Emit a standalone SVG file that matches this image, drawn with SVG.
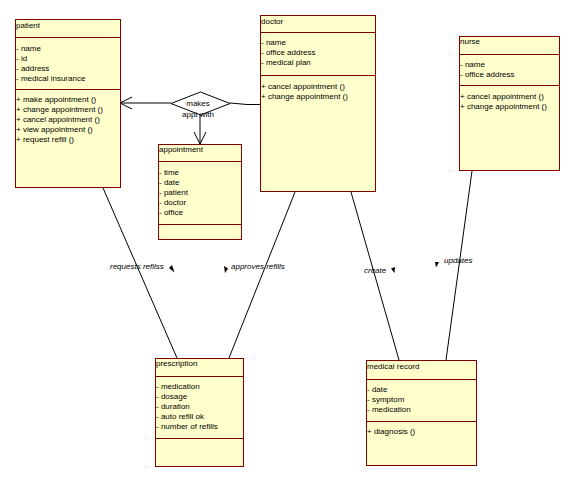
<svg xmlns="http://www.w3.org/2000/svg" width="576" height="483" viewBox="0 0 576 483">
<style>
.box{fill:#FFFFCC;stroke:#800000;stroke-width:1}
.sep{stroke:#800000;stroke-width:1}
text{font-family:"Liberation Sans",Arial,sans-serif;font-size:8px;fill:#000}
.lbl{font-style:italic}
.ln{stroke:#000;stroke-width:1;fill:none}
.dir{fill:#000;stroke:none}
</style>
<rect width="576" height="483" fill="#fff"/>
<g id="connectors">
<polyline class="ln" points="171,103 120,103"/>
<polyline class="ln" points="132,97 120,103 132,109"/>
<polyline class="ln" points="230,103 247,104.5 260,104.5"/>
<line class="ln" x1="200" y1="115" x2="200" y2="144"/>
<polyline class="ln" points="194,132 200,144 206,132"/>
<line class="ln" x1="103" y1="188" x2="177" y2="358"/>
<line class="ln" x1="295" y1="192" x2="229" y2="358"/>
<line class="ln" x1="351" y1="192" x2="399" y2="360"/>
<line class="ln" x1="472" y1="171" x2="446" y2="360"/>
<text class="lbl" x="110" y="269">requests refilss</text>
<polygon class="dir" points="169,268 172,265 174.5,272.5"/>
<text class="lbl" x="231" y="269">approves refills</text>
<polygon class="dir" points="224,266 228,268.5 225,273"/>
<text class="lbl" x="364" y="273">create</text>
<polygon class="dir" points="391,268.5 395,267 394.5,273"/>
<text class="lbl" x="444" y="263">updates</text>
<polygon class="dir" points="435,262 439,262 436,267.5"/>
</g>
<g id="makes">
<polygon points="171,103.5 200.5,92 230,103.5 200.5,115" fill="#fff" stroke="#000" stroke-width="1"/>
<text x="198" y="106" text-anchor="middle">makes</text>
<text x="198" y="117" text-anchor="middle">appt with</text>
</g>
<g id="patient">
<rect class="box" x="15.5" y="19.5" width="105" height="168"/>
<line class="sep" x1="15.5" y1="37.5" x2="120.5" y2="37.5"/>
<line class="sep" x1="15.5" y1="89.5" x2="120.5" y2="89.5"/>
<text x="16" y="27.5">patient</text>
<text x="16" y="51">- name</text>
<text x="16" y="61">- id</text>
<text x="16" y="71">- address</text>
<text x="16" y="81">- medical insurance</text>
<text x="16" y="102">+ make appointment ()</text>
<text x="16" y="112">+ change appointment ()</text>
<text x="16" y="122">+ cancel appointment ()</text>
<text x="16" y="132">+ view appointment ()</text>
<text x="16" y="142">+ request refill ()</text>
</g>
<g id="doctor">
<rect class="box" x="260.5" y="15.5" width="115" height="176"/>
<line class="sep" x1="260.5" y1="32.5" x2="375.5" y2="32.5"/>
<line class="sep" x1="260.5" y1="75.5" x2="375.5" y2="75.5"/>
<text x="261" y="23.5">doctor</text>
<text x="261" y="45">- name</text>
<text x="261" y="55">- office address</text>
<text x="261" y="65">- medical plan</text>
<text x="261" y="89">+ cancel appointment ()</text>
<text x="261" y="99">+ change appointment ()</text>
</g>
<g id="nurse">
<rect class="box" x="459.5" y="36.5" width="100" height="134"/>
<line class="sep" x1="459.5" y1="54.5" x2="559.5" y2="54.5"/>
<line class="sep" x1="459.5" y1="85.5" x2="559.5" y2="85.5"/>
<text x="460" y="43.5">nurse</text>
<text x="460" y="67">- name</text>
<text x="460" y="77">- office address</text>
<text x="460" y="99">+ cancel appointment ()</text>
<text x="460" y="109">+ change appointment ()</text>
</g>
<g id="appointment">
<rect class="box" x="158.5" y="144.5" width="83" height="95"/>
<line class="sep" x1="158.5" y1="161.5" x2="241.5" y2="161.5"/>
<line class="sep" x1="158.5" y1="224.5" x2="241.5" y2="224.5"/>
<text x="159" y="151.5">appointment</text>
<text x="159" y="175">- time</text>
<text x="159" y="185">- date</text>
<text x="159" y="195">- patient</text>
<text x="159" y="205">- doctor</text>
<text x="159" y="215">- office</text>
</g>
<g id="prescription">
<rect class="box" x="155.5" y="358.5" width="88" height="108"/>
<line class="sep" x1="155.5" y1="376.5" x2="243.5" y2="376.5"/>
<line class="sep" x1="155.5" y1="438.5" x2="243.5" y2="438.5"/>
<text x="156" y="366">prescription</text>
<text x="156" y="389">- medication</text>
<text x="156" y="399">- dosage</text>
<text x="156" y="409">- duration</text>
<text x="156" y="419">- auto refill ok</text>
<text x="156" y="429">- number of refills</text>
</g>
<g id="medical-record">
<rect class="box" x="366.5" y="360.5" width="110" height="105"/>
<line class="sep" x1="366.5" y1="379.5" x2="476.5" y2="379.5"/>
<line class="sep" x1="366.5" y1="421.5" x2="476.5" y2="421.5"/>
<text x="367" y="369">medical record</text>
<text x="367" y="392">- date</text>
<text x="367" y="402">- symptom</text>
<text x="367" y="412">- medication</text>
<text x="367" y="434">+ diagnosis ()</text>
</g>
</svg>
